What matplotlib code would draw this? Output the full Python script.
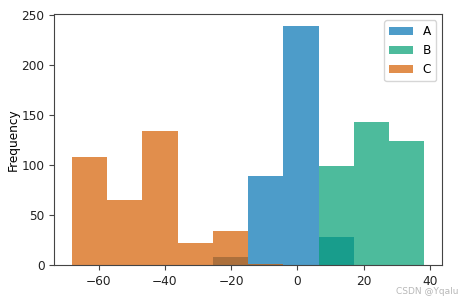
import numpy as np
import matplotlib
matplotlib.use("Agg")
import matplotlib.pyplot as plt

# shared bin edges (pandas hist, bins=10)
edges = [-68.1, -57.45, -46.8, -36.15, -25.5, -14.85, -4.2, 6.45, 17.1, 27.75, 38.4]

# counts per bin for each column
a_counts = [0, 0, 0, 0, 8, 89, 239, 28, 0, 0]
b_counts = [0, 0, 0, 0, 0, 0, 0, 99, 143, 124]
c_counts = [108, 65, 134, 22, 34, 1, 0, 0, 0, 0]

names = ["A", "B", "C"]
colors = ["#0173b2", "#029e73", "#d55e00"]

centers = [(edges[i] + edges[i + 1]) / 2 for i in range(len(edges) - 1)]

plt.rcParams["font.size"] = 8.7
plt.rcParams["axes.edgecolor"] = "#444444"
plt.rcParams["xtick.color"] = "#444444"
plt.rcParams["ytick.color"] = "#444444"
plt.rcParams["xtick.labelcolor"] = "#222222"
plt.rcParams["ytick.labelcolor"] = "#222222"

fig = plt.figure(figsize=(4.74, 2.99), dpi=100)
ax = fig.add_axes([0.1146, 0.1137, 0.818, 0.838])

for name, counts, col in zip(names, [a_counts, b_counts, c_counts], colors):
    ax.hist(centers, bins=edges, weights=counts, color=col, alpha=0.7, label=name)

ax.set_ylabel("Frequency", labelpad=1)
ax.set_yticks([0, 50, 100, 150, 200, 250])
ax.set_xticks([-60, -40, -20, 0, 20, 40])
ax.legend(loc="upper right")

fig.text(0.968, 0.025, "CSDN @Yqalu", ha="right", va="center", fontsize=6.5, color="#b8b8b8")

plt.savefig("out.png", dpi=100)
